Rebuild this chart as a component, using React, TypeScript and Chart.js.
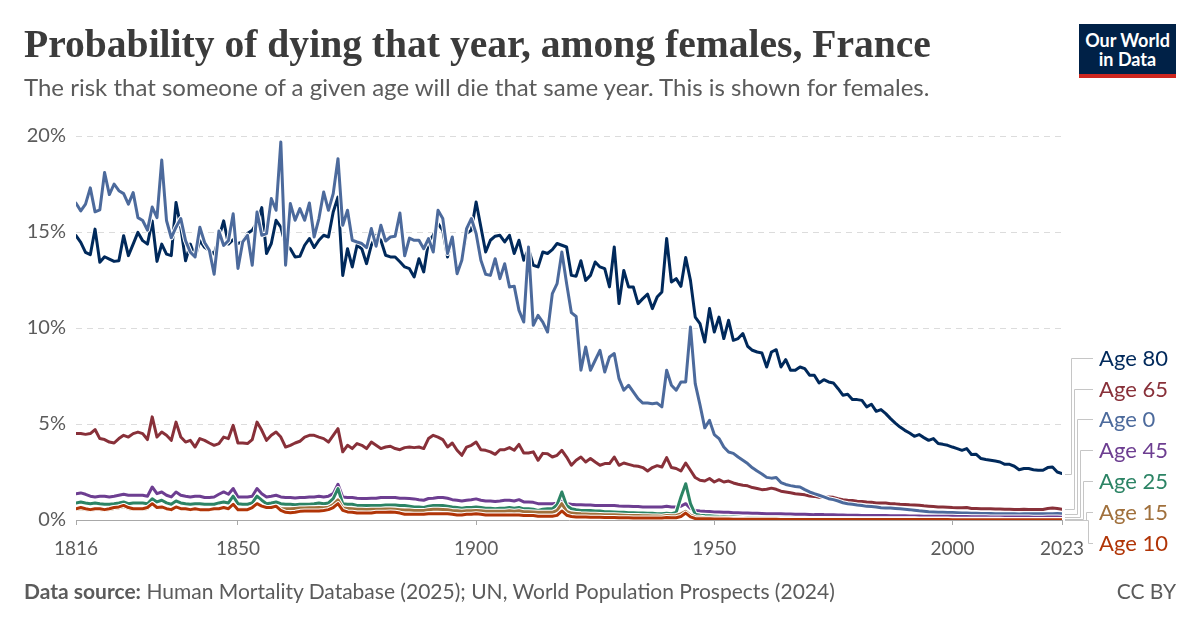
import React, { useEffect, useRef } from "react";
import { Chart, registerables } from "chart.js";

Chart.register(...registerables);

// ---- Data: annual probability of death (%), females, France, 1816–2023 ----
const FIRST_YEAR = 1816;
const LAST_YEAR = 2023;
const years: number[] = [];
for (let yr = FIRST_YEAR; yr <= LAST_YEAR; yr++) years.push(yr);

const xTickYears = [1816, 1850, 1900, 1950, 2000, 2023];
const yTickValues = [0, 5, 10, 15, 20];

const age80 = [
  14.81, 14.46, 13.94, 13.82,
  15.15, 13.42, 13.71, 13.59, 13.47, 13.5, 14.81, 13.77, 14.37, 14.98,
  14.55, 14.37, 15.58, 13.47, 14.37, 13.85, 13.77, 16.54, 15.24, 13.5,
  14.37, 13.68, 14.55, 14.2, 14.03, 13.85, 14.72, 15.58, 14.37, 14.6,
  14.4, 14.5, 14.92, 15.09, 15.5, 16.27, 13.88, 14.4, 15.61, 15.26,
  14.3, 14.13, 13.7, 13.73, 14.31, 14.66, 14.19, 14.57, 14.83, 14.74,
  16.04, 16.82, 12.74, 14.13, 13.18, 14.31, 14.13, 13.35, 14.31, 14.83,
  14.57, 13.79, 13.7, 13.7, 13.45, 13.18, 13.09, 12.66, 13.61, 12.92,
  14.48, 14.83, 15.44, 15.09, 13.7, 14.74, 13.0, 13.53, 14.92, 15.09,
  16.56, 15.26, 13.96, 14.57, 14.78, 14.83, 14.48, 14.83, 13.88, 14.57,
  13.53, 14.13, 13.27, 13.18, 13.96, 13.88, 14.08, 14.4, 14.31, 14.22,
  12.74, 12.7, 13.5, 12.48, 12.74, 13.44, 13.18, 13.09, 12.14, 14.22,
  11.27, 13.0, 12.14, 12.14, 11.27, 11.53, 11.76, 11.01, 11.61, 11.88,
  14.66, 12.4, 12.57, 12.17, 13.67, 12.48, 10.57, 10.23, 9.27, 11.01,
  9.79, 10.57, 9.45, 10.4, 9.36, 9.45, 9.71, 9.05, 8.84, 8.75,
  8.7, 7.97, 8.75, 8.87, 7.97, 8.35, 7.8, 7.8, 7.97, 7.88,
  7.54, 7.54, 7.14, 7.31, 7.19, 7.14, 6.84, 6.5, 6.55, 6.27,
  6.27, 6.23, 5.89, 6.03, 5.66, 5.75, 5.54, 5.28, 5.05, 4.84,
  4.67, 4.53, 4.36, 4.45, 4.29, 4.15, 4.24, 3.98, 3.94, 3.89,
  3.8, 3.72, 3.63, 3.72, 3.41, 3.42, 3.2, 3.15, 3.11, 3.07,
  3.02, 2.9, 2.9, 2.8, 2.62, 2.68, 2.68, 2.62, 2.59, 2.59,
  2.73, 2.76, 2.5, 2.42,
];

const age65 = [
  4.5, 4.5, 4.46, 4.5,
  4.71, 4.24, 4.19, 4.06, 4.01, 4.24, 4.41, 4.32, 4.5, 4.58,
  4.5, 4.19, 5.37, 4.32, 4.58, 4.41, 4.15, 5.1, 4.32, 4.06,
  4.15, 3.8, 4.24, 4.15, 4.01, 3.89, 3.98, 4.32, 4.24, 4.93,
  4.01, 4.01, 3.98, 4.19, 5.1, 4.67, 4.15, 4.41, 4.58, 4.32,
  3.8, 3.89, 4.01, 4.1, 4.32, 4.41, 4.41, 4.32, 4.24, 4.06,
  4.41, 4.76, 3.55, 3.89, 3.72, 3.98, 3.89, 3.72, 4.06, 3.89,
  3.72, 3.8, 3.84, 3.72, 3.66, 3.77, 3.8, 3.77, 3.8, 3.72,
  4.24, 4.41, 4.32, 4.19, 3.8, 4.01, 3.63, 3.37, 3.8, 3.89,
  4.06, 3.66, 3.63, 3.55, 3.42, 3.66, 3.66, 3.77, 3.63, 3.94,
  3.49, 3.49, 3.55, 3.11, 3.47, 3.45, 3.28, 3.37, 3.63, 3.28,
  2.85, 3.11, 3.28, 3.02, 3.2, 3.02, 2.85, 2.94, 2.94, 3.28,
  2.85, 2.97, 2.9, 2.83, 2.8, 2.73, 2.55, 2.73, 2.83, 2.76,
  3.25, 2.73, 2.68, 2.55, 2.97, 2.59, 2.21, 2.07, 2.03, 2.16,
  1.98, 2.1, 1.98, 2.03, 1.93, 1.86, 1.81, 1.78, 1.69, 1.64,
  1.58, 1.6, 1.66, 1.6, 1.5, 1.46, 1.42, 1.37, 1.34, 1.31,
  1.25, 1.23, 1.18, 1.2, 1.2, 1.18, 1.11, 1.06, 1.03, 1.02,
  0.98, 0.97, 0.94, 0.93, 0.89, 0.89, 0.88, 0.85, 0.84, 0.82,
  0.81, 0.79, 0.78, 0.77, 0.74, 0.72, 0.7, 0.68, 0.68, 0.67,
  0.65, 0.64, 0.64, 0.65, 0.6, 0.6, 0.59, 0.58, 0.58, 0.57,
  0.57, 0.56, 0.56, 0.55, 0.55, 0.56, 0.55, 0.55, 0.55, 0.55,
  0.6, 0.62, 0.6, 0.56,
];

const age0 = [
  16.5, 16.1, 16.45, 17.3,
  16.05, 16.15, 18.1, 16.95, 17.5, 17.15, 17.0, 16.45, 17.05, 15.75,
  15.6, 15.1, 16.3, 15.75, 18.75, 15.6, 14.7, 15.25, 15.7, 14.55,
  13.95, 13.7, 15.25, 14.45, 14.05, 12.8, 15.05, 14.3, 14.55, 15.95,
  13.1, 14.48, 14.83, 13.27, 16.04, 14.83, 14.92, 16.74, 16.13, 19.69,
  13.27, 16.48, 15.61, 16.22, 15.61, 16.51, 14.74, 15.7, 17.08, 16.13,
  17.0, 18.82, 15.35, 16.13, 14.57, 14.48, 14.4, 14.19, 15.18, 14.26,
  15.35, 14.53, 14.74, 14.78, 15.99, 13.76, 14.68, 14.57, 14.57, 14.13,
  14.66, 13.96, 16.13, 15.7, 13.88, 14.74, 12.83, 13.53, 15.18, 15.7,
  14.92, 13.53, 12.8, 12.74, 13.61, 12.57, 13.35, 12.14, 12.18, 10.92,
  10.31, 14.22, 10.14, 10.66, 10.31, 9.79, 11.79, 12.31, 13.96, 12.31,
  10.8, 10.6, 7.8, 9.01, 7.8, 8.32, 8.84, 7.71, 8.49, 8.67,
  7.36, 6.76, 7.02, 6.67, 6.32, 6.09, 6.09, 6.06, 6.09, 5.89,
  7.8, 7.02, 6.76, 7.19, 7.19, 10.05, 7.1, 6.0, 4.8, 5.19,
  4.45, 4.24, 3.8, 3.54, 3.47, 3.28, 3.11, 2.94, 2.72, 2.55,
  2.4, 2.22, 2.18, 2.21, 1.95, 1.85, 1.79, 1.75, 1.72, 1.58,
  1.46, 1.37, 1.29, 1.2, 1.11, 1.06, 0.99, 0.9, 0.85, 0.82,
  0.78, 0.75, 0.71, 0.7, 0.68, 0.64, 0.63, 0.62, 0.6, 0.58,
  0.56, 0.54, 0.51, 0.48, 0.46, 0.43, 0.42, 0.41, 0.4, 0.39,
  0.39, 0.38, 0.37, 0.36, 0.35, 0.35, 0.34, 0.34, 0.34, 0.33,
  0.32, 0.32, 0.32, 0.32, 0.31, 0.32, 0.32, 0.33, 0.32, 0.33,
  0.32, 0.33, 0.34, 0.33,
];

const age45 = [
  1.37, 1.41, 1.34, 1.24,
  1.2, 1.24, 1.24, 1.2, 1.24, 1.29, 1.34, 1.29, 1.29, 1.29,
  1.29, 1.24, 1.72, 1.37, 1.46, 1.29, 1.2, 1.46, 1.29, 1.24,
  1.2, 1.24, 1.24, 1.17, 1.17, 1.2, 1.34, 1.46, 1.34, 1.64,
  1.2, 1.2, 1.2, 1.24, 1.64, 1.37, 1.2, 1.24, 1.29, 1.2,
  1.17, 1.17, 1.15, 1.17, 1.17, 1.2, 1.2, 1.24, 1.2, 1.24,
  1.37, 1.86, 1.2, 1.17, 1.17, 1.13, 1.12, 1.12, 1.13, 1.13,
  1.17, 1.17, 1.17, 1.17, 1.13, 1.13, 1.12, 1.1, 1.06, 1.03,
  1.12, 1.13, 1.17, 1.17, 1.13, 1.06, 1.03, 0.99, 1.03, 1.06,
  1.1, 1.03, 0.99, 0.99, 0.96, 0.99, 1.03, 1.03, 0.99, 1.06,
  0.94, 0.94, 0.92, 0.85, 0.85, 0.85, 0.85, 0.87, 1.0, 0.85,
  0.82, 0.8, 0.8, 0.78, 0.78, 0.76, 0.76, 0.75, 0.75, 0.75,
  0.73, 0.72, 0.72, 0.7, 0.7, 0.68, 0.68, 0.68, 0.68, 0.68,
  0.72, 0.68, 0.68, 0.72, 0.85, 0.6, 0.5, 0.47, 0.45, 0.44,
  0.42, 0.42, 0.4, 0.4, 0.38, 0.38, 0.37, 0.36, 0.35, 0.35,
  0.34, 0.33, 0.33, 0.33, 0.32, 0.31, 0.31, 0.3, 0.3, 0.3,
  0.29, 0.28, 0.28, 0.28, 0.27, 0.27, 0.26, 0.26, 0.25, 0.25,
  0.25, 0.24, 0.24, 0.24, 0.23, 0.23, 0.23, 0.22, 0.22, 0.22,
  0.22, 0.21, 0.21, 0.21, 0.2, 0.2, 0.2, 0.19, 0.19, 0.19,
  0.19, 0.18, 0.18, 0.18, 0.17, 0.17, 0.17, 0.17, 0.16, 0.16,
  0.16, 0.16, 0.15, 0.15, 0.15, 0.15, 0.15, 0.14, 0.14, 0.14,
  0.15, 0.16, 0.15, 0.14,
];

const age25 = [
  0.89, 0.94, 0.89, 0.85,
  0.89, 0.85, 0.82, 0.82, 0.85, 0.89, 0.94, 0.85, 0.89, 0.89,
  0.89, 0.85, 1.11, 0.94, 1.03, 0.89, 0.82, 0.99, 0.89, 0.85,
  0.82, 0.85, 0.85, 0.82, 0.82, 0.82, 0.89, 0.94, 0.89, 1.24,
  0.85, 0.82, 0.82, 0.89, 1.24, 1.03, 0.85, 0.89, 0.94, 0.85,
  0.82, 0.82, 0.8, 0.82, 0.82, 0.82, 0.85, 0.89, 0.85, 0.89,
  1.11, 1.64, 0.85, 0.82, 0.82, 0.76, 0.76, 0.76, 0.76, 0.76,
  0.76, 0.78, 0.78, 0.78, 0.75, 0.75, 0.72, 0.68, 0.68, 0.65,
  0.72, 0.75, 0.76, 0.75, 0.72, 0.68, 0.65, 0.61, 0.65, 0.65,
  0.68, 0.65, 0.61, 0.61, 0.59, 0.61, 0.61, 0.65, 0.61, 0.65,
  0.58, 0.58, 0.56, 0.5, 0.56, 0.59, 0.58, 0.8, 1.46, 0.76,
  0.59, 0.54, 0.5, 0.5, 0.5, 0.47, 0.47, 0.43, 0.43, 0.42,
  0.4, 0.4, 0.38, 0.38, 0.36, 0.36, 0.35, 0.35, 0.33, 0.33,
  0.35, 0.33, 0.4, 1.2, 1.89, 0.85, 0.3, 0.25, 0.23, 0.22,
  0.2, 0.18, 0.17, 0.16, 0.15, 0.14, 0.13, 0.13, 0.12, 0.12,
  0.11, 0.11, 0.1, 0.1, 0.09, 0.09, 0.09, 0.08, 0.08, 0.08,
  0.08, 0.07, 0.07, 0.07, 0.07, 0.07, 0.07, 0.06, 0.06, 0.06,
  0.06, 0.06, 0.06, 0.06, 0.06, 0.06, 0.06, 0.06, 0.06, 0.06,
  0.06, 0.06, 0.06, 0.05, 0.05, 0.05, 0.05, 0.05, 0.05, 0.05,
  0.04, 0.04, 0.04, 0.04, 0.04, 0.04, 0.04, 0.04, 0.04, 0.04,
  0.04, 0.03, 0.03, 0.03, 0.03, 0.03, 0.03, 0.03, 0.03, 0.03,
  0.03, 0.03, 0.03, 0.03,
];

const age15 = [
  0.56, 0.6, 0.55, 0.52,
  0.55, 0.55, 0.52, 0.55, 0.6, 0.63, 0.7, 0.6, 0.56, 0.56,
  0.56, 0.6, 0.8, 0.62, 0.65, 0.57, 0.53, 0.66, 0.58, 0.57,
  0.54, 0.58, 0.55, 0.55, 0.55, 0.58, 0.6, 0.64, 0.6, 0.8,
  0.56, 0.56, 0.56, 0.64, 0.84, 0.72, 0.64, 0.64, 0.7, 0.6,
  0.58, 0.58, 0.6, 0.62, 0.63, 0.64, 0.64, 0.65, 0.64, 0.66,
  0.8, 1.05, 0.62, 0.6, 0.58, 0.56, 0.56, 0.55, 0.56, 0.56,
  0.56, 0.57, 0.57, 0.56, 0.54, 0.52, 0.52, 0.5, 0.5, 0.49,
  0.54, 0.56, 0.56, 0.55, 0.53, 0.5, 0.48, 0.46, 0.48, 0.48,
  0.5, 0.48, 0.46, 0.46, 0.45, 0.46, 0.46, 0.48, 0.46, 0.48,
  0.43, 0.43, 0.42, 0.4, 0.4, 0.41, 0.4, 0.5, 0.85, 0.45,
  0.36, 0.34, 0.32, 0.31, 0.3, 0.3, 0.29, 0.28, 0.27, 0.27,
  0.26, 0.25, 0.24, 0.24, 0.23, 0.22, 0.22, 0.21, 0.21, 0.2,
  0.23, 0.22, 0.24, 0.32, 0.45, 0.25, 0.16, 0.14, 0.12, 0.11,
  0.1, 0.1, 0.09, 0.09, 0.08, 0.08, 0.08, 0.07, 0.07, 0.07,
  0.07, 0.06, 0.06, 0.06, 0.06, 0.06, 0.06, 0.05, 0.05, 0.05,
  0.05, 0.05, 0.05, 0.05, 0.05, 0.05, 0.05, 0.05, 0.05, 0.05,
  0.04, 0.04, 0.04, 0.04, 0.04, 0.04, 0.04, 0.04, 0.04, 0.04,
  0.04, 0.04, 0.04, 0.03, 0.03, 0.03, 0.03, 0.03, 0.03, 0.03,
  0.03, 0.03, 0.03, 0.03, 0.03, 0.03, 0.03, 0.03, 0.03, 0.03,
  0.02, 0.02, 0.02, 0.02, 0.02, 0.02, 0.02, 0.02, 0.02, 0.02,
  0.02, 0.02, 0.02, 0.02,
];

const age10 = [
  0.59, 0.65, 0.59, 0.54,
  0.59, 0.59, 0.54, 0.59, 0.65, 0.68, 0.76, 0.65, 0.59, 0.59,
  0.59, 0.65, 0.85, 0.65, 0.68, 0.59, 0.54, 0.68, 0.59, 0.59,
  0.54, 0.59, 0.54, 0.54, 0.54, 0.59, 0.59, 0.65, 0.59, 0.82,
  0.54, 0.54, 0.54, 0.65, 0.85, 0.72, 0.65, 0.65, 0.72, 0.5,
  0.4, 0.38, 0.4, 0.45, 0.47, 0.47, 0.47, 0.47, 0.5, 0.54,
  0.65, 0.85, 0.5, 0.42, 0.4, 0.36, 0.36, 0.36, 0.36, 0.4,
  0.4, 0.4, 0.42, 0.4, 0.36, 0.3, 0.3, 0.3, 0.3, 0.3,
  0.33, 0.33, 0.33, 0.33, 0.33, 0.3, 0.26, 0.26, 0.3, 0.3,
  0.33, 0.3, 0.26, 0.26, 0.26, 0.26, 0.26, 0.26, 0.26, 0.26,
  0.23, 0.23, 0.23, 0.2, 0.2, 0.2, 0.2, 0.24, 0.47, 0.25,
  0.18, 0.16, 0.15, 0.15, 0.14, 0.14, 0.14, 0.13, 0.13, 0.13,
  0.12, 0.12, 0.12, 0.11, 0.11, 0.11, 0.1, 0.1, 0.1, 0.1,
  0.13, 0.12, 0.12, 0.18, 0.36, 0.16, 0.08, 0.07, 0.06, 0.06,
  0.05, 0.05, 0.05, 0.05, 0.04, 0.04, 0.04, 0.04, 0.04, 0.04,
  0.04, 0.04, 0.04, 0.04, 0.03, 0.03, 0.03, 0.03, 0.03, 0.03,
  0.03, 0.03, 0.03, 0.03, 0.03, 0.03, 0.03, 0.03, 0.03, 0.03,
  0.02, 0.02, 0.02, 0.02, 0.02, 0.02, 0.02, 0.02, 0.02, 0.02,
  0.02, 0.02, 0.02, 0.02, 0.02, 0.02, 0.02, 0.02, 0.02, 0.02,
  0.01, 0.01, 0.01, 0.01, 0.01, 0.01, 0.01, 0.01, 0.01, 0.01,
  0.01, 0.01, 0.01, 0.01, 0.01, 0.01, 0.01, 0.01, 0.01, 0.01,
  0.01, 0.01, 0.01, 0.01,
];

// Legend order (top to bottom at the right edge); later entries are drawn on top.
const seriesLabels = ["Age 80", "Age 65", "Age 0", "Age 45", "Age 25", "Age 15", "Age 10"];
const seriesColors = ["#00295b", "#883039", "#4c6a9c", "#6d3e91", "#2c8465", "#a0703c", "#b13507"];
const seriesValues = [age80, age65, age0, age45, age25, age15, age10];

// ---- Layout ----
const LABEL_FONT = "22px Lato";
const labelYs = [358, 389, 419, 450, 481, 512, 543];
const bendXs = [1071.5, 1074.5, 1077.5, 1080.5, 1083.5, 1086.5, 1088.5];
const LABEL_X = 1099;
const CONNECTOR_END_X = 1093;

const endLabelsPlugin = {
  id: "endLabels",
  afterDatasetsDraw(chart: any) {
    const { ctx, chartArea, scales } = chart;
    const y = scales.y;
    ctx.save();
    seriesLabels.forEach((label, i) => {
      const vals = seriesValues[i];
      const yEnd = Math.round(y.getPixelForValue(vals[vals.length - 1])) + 0.5;
      const yLab = labelYs[i] + 0.5;
      ctx.strokeStyle = "#c6c6c6";
      ctx.lineWidth = 1;
      ctx.beginPath();
      ctx.moveTo(chartArea.right + 3, yEnd);
      ctx.lineTo(bendXs[i], yEnd);
      ctx.lineTo(bendXs[i], yLab);
      ctx.lineTo(CONNECTOR_END_X, yLab);
      ctx.stroke();
      ctx.fillStyle = seriesColors[i];
      ctx.font = LABEL_FONT;
      ctx.textAlign = "left";
      ctx.textBaseline = "middle";
      ctx.fillText(label, LABEL_X, labelYs[i] + 1);
    });
    ctx.restore();
  },
};

function buildDatasets() {
  const out: any[] = [];
  const n = seriesLabels.length;
  seriesLabels.forEach((label, i) => {
    const pts = years.map((yr, k) => ({ x: yr, y: seriesValues[i][k] }));
    const drawRank = (n - 1 - i) * 2; // lower order = drawn on top
    out.push({
      label,
      data: pts,
      borderColor: seriesColors[i],
      borderWidth: 3,
      pointRadius: 0,
      tension: 0,
      borderJoinStyle: "round",
      borderCapStyle: "round",
      order: drawRank,
    });
    out.push({
      label: label + " outline",
      data: pts,
      borderColor: "#ffffff",
      borderWidth: 5,
      pointRadius: 0,
      tension: 0,
      borderJoinStyle: "round",
      borderCapStyle: "round",
      order: drawRank + 1,
    });
  });
  return out;
}

export default function App() {
  const canvasRef = useRef<HTMLCanvasElement>(null);

  useEffect(() => {
    document.body.style.margin = "0";
    const canvas = canvasRef.current;
    if (!canvas) return;
    const chart = new Chart(canvas, {
      type: "line",
      data: { datasets: buildDatasets() },
      options: {
        animation: false,
        responsive: false,
        devicePixelRatio: 1,
        layout: { padding: { left: 0, top: 136, right: 138, bottom: 67 } },
        plugins: {
          legend: { display: false },
          tooltip: { enabled: false },
        },
        scales: {
          x: {
            type: "linear",
            min: FIRST_YEAR,
            max: LAST_YEAR,
            afterBuildTicks: (axis: any) => {
              axis.ticks = xTickYears.map((v) => ({ value: v }));
            },
            afterFit: (scale: any) => {
              scale.height = 40;
            },
            ticks: {
              autoSkip: false,
              maxRotation: 0,
              padding: 12,
              color: "#5b5b5b",
              font: { family: "Lato", size: 19 },
              callback: (v: any) => String(v),
            },
            grid: {
              display: true,
              drawOnChartArea: false,
              drawTicks: true,
              tickLength: 5,
              color: "#a8a8a8",
            },
            border: { display: true, color: "#a8a8a8", width: 1 },
          },
          y: {
            type: "linear",
            min: 0,
            max: 20,
            afterBuildTicks: (axis: any) => {
              axis.ticks = yTickValues.map((v) => ({ value: v }));
            },
            afterFit: (scale: any) => {
              scale.width = 76;
            },
            ticks: {
              padding: 10,
              color: "#5b5b5b",
              font: { family: "Lato", size: 20 },
              callback: (v: any) => v + "%",
            },
            grid: {
              drawTicks: false,
              lineWidth: 1,
              color: (ctx: any) => (ctx.tick && ctx.tick.value === 0 ? "rgba(0,0,0,0)" : "#dcdcdc"),
            },
            border: { display: false, dash: [6, 5] },
          },
        },
      },
      plugins: [endLabelsPlugin],
    } as any);
    return () => chart.destroy();
  }, []);

  return (
    <div
      style={{
        position: "relative",
        width: 1200,
        height: 627,
        background: "#ffffff",
        overflow: "hidden",
        fontFamily: "Lato, sans-serif",
      }}
    >
      <canvas ref={canvasRef} width={1200} height={627} style={{ position: "absolute", left: 0, top: 0 }} />
      <div
        style={{
          position: "absolute",
          left: 24,
          top: 25,
          fontFamily: '"Liberation Serif", serif',
          fontWeight: 700,
          fontSize: 39.6,
          lineHeight: 1,
          color: "#3b3b3b",
          whiteSpace: "nowrap",
        }}
      >
        Probability of dying that year, among females, France
      </div>
      <div
        style={{
          position: "absolute",
          left: 24,
          top: 75,
          fontSize: 24,
          lineHeight: 1,
          color: "#5b5b5b",
          whiteSpace: "nowrap",
        }}
      >
        The risk that someone of a given age will die that same year. This is shown for females.
      </div>
      <div
        style={{
          position: "absolute",
          left: 1079,
          top: 24,
          width: 97,
          height: 54,
          background: "#002147",
          color: "#ffffff",
          textAlign: "center",
          fontWeight: 700,
          fontSize: 18,
          lineHeight: "19px",
          paddingTop: 7,
          boxSizing: "border-box",
          borderBottom: "4px solid #ce261e",
        }}
      >
        Our World
        <br />
        in Data
      </div>
      <div
        style={{
          position: "absolute",
          left: 24,
          top: 580,
          fontSize: 21,
          lineHeight: 1,
          color: "#5b5b5b",
          whiteSpace: "nowrap",
        }}
      >
        <b>Data source:</b> Human Mortality Database (2025); UN, World Population Prospects (2024)
      </div>
      <div
        style={{
          position: "absolute",
          right: 24,
          top: 580,
          fontSize: 21,
          lineHeight: 1,
          color: "#5b5b5b",
          whiteSpace: "nowrap",
        }}
      >
        CC BY
      </div>
    </div>
  );
}
